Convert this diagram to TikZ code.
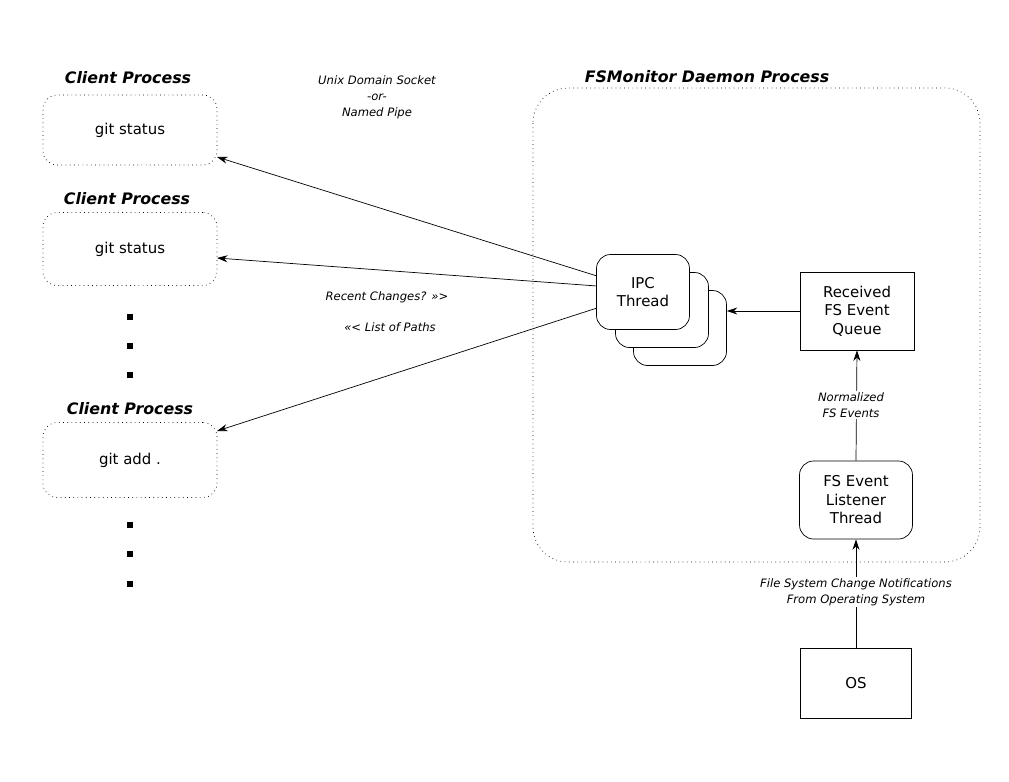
\documentclass[tikz,border=0pt]{standalone}
\usepackage{fontspec}
\setmainfont{DejaVu Sans}
\usetikzlibrary{arrows.meta}
\begin{document}
\begin{tikzpicture}[x=0.02cm,y=-0.02cm,
  client/.style={draw,dotted,rounded corners=8pt,minimum width=174*0.02cm,font=\fontsize{8.5}{10}\selectfont},
  title/.style={font=\fontsize{9}{11}\selectfont\bfseries\itshape},
  note/.style={font=\fontsize{6.6}{9}\selectfont\itshape,align=center},
  thread/.style={draw,fill=white,rounded corners=8pt,minimum width=93*0.02cm,minimum height=75*0.02cm,align=center,font=\fontsize{8.5}{10.5}\selectfont},
  plain/.style={draw,fill=white,minimum width=114*0.02cm,minimum height=78*0.02cm,align=center,font=\fontsize{8.5}{10.5}\selectfont},
  arr/.style={-{Stealth[length=6pt,width=4pt]}},
  dot/.style={fill,minimum size=3pt,inner sep=0pt}]
\useasboundingbox (0,0) rectangle (1009,782);
% clients
\node[title] (t1) at (128,78) {Client Process};
\node[client,minimum height=70*0.02cm] (c1) at (130,130) {git status};
\node[title] (t2) at (127,199) {Client Process};
\node[client,minimum height=73*0.02cm] (c2) at (130,249) {git status};
\node[title] (t3) at (130,409) {Client Process};
\node[client,minimum height=75*0.02cm] (c3) at (130,460) {git add .};
\foreach \y [count=\i] in {317,346,375,525,554,584}
  \node[dot] (d\i) at (130,\y) {};
% daemon
\node[title] (td) at (707,77) {FSMonitor Daemon Process};
\draw[dotted,rounded corners=20pt] (533,88) rectangle (980,562);
\node[thread] (ipc3) at (680,328) {};
\node[thread] (ipc2) at (662,310) {};
\node[thread] (ipc) at (643,292) {IPC\\Thread};
\node[plain] (queue) at (857,311) {Received\\FS Event\\Queue};
\node[thread,minimum width=113*0.02cm,minimum height=78*0.02cm] (listen) at (856,500) {FS Event\\Listener\\Thread};
\node[plain,minimum width=111*0.02cm,minimum height=70*0.02cm] (os) at (856,683) {OS};
% connectors
\coordinate (p1) at (217,157);
\coordinate (p2) at (217,258);
\coordinate (p3) at (217,431);
\coordinate (q1) at (597,276);
\coordinate (q2) at (597,286);
\coordinate (q3) at (597,308);
\draw[arr,{Stealth[length=6pt,width=4pt]}-] (p1) -- (q1);
\draw[arr,{Stealth[length=6pt,width=4pt]}-] (p2) -- (q2);
\draw[arr,{Stealth[length=6pt,width=4pt]}-] (p3) -- (q3);
\draw[arr] (queue.west) -- (ipc3.east |- queue.west);
\draw[arr] (listen.north) -- (queue.south);
\draw[arr] (os.north) -- (listen.south);
% labels
\node[note] (l1) at (377,97) {Unix Domain Socket\\-or-\\Named Pipe};
\node[note] (l2) at (387,297) {Recent Changes? >>>};
\node[note] (l3) at (390,327) {<<< List of Paths};
\node[note,fill=white,inner sep=1pt] (l4) at (851,405) {Normalized\\FS Events};
\node[note,fill=white,inner sep=1pt] (l5) at (856,592) {File System Change Notifications\\From Operating System};
\end{tikzpicture}
\end{document}
